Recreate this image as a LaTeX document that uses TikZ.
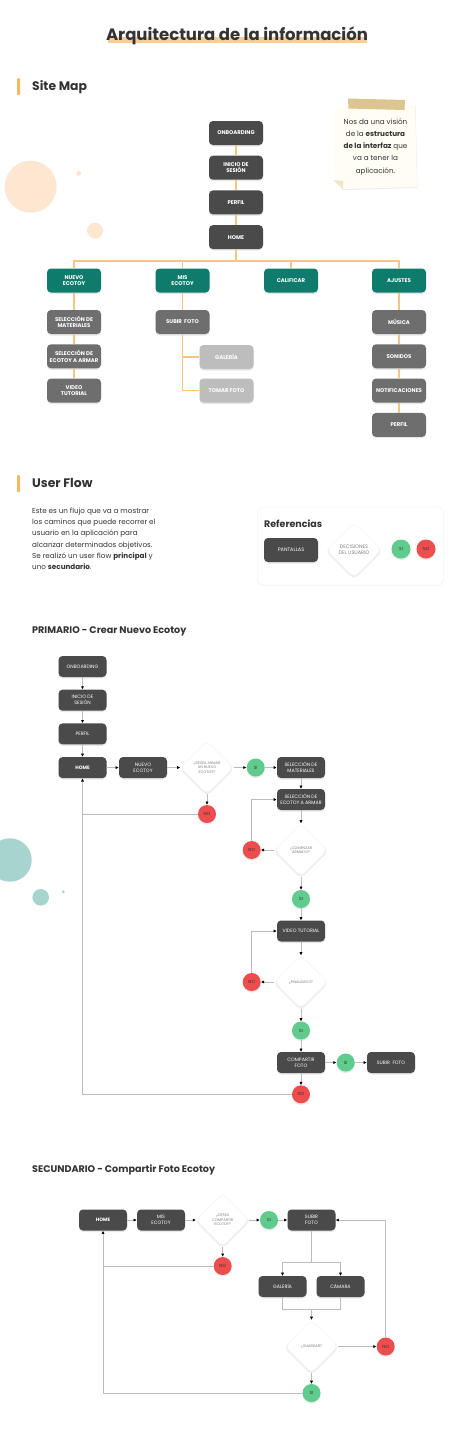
\documentclass[tikz,border=0pt]{standalone}
\usepackage{fontspec}
\setmainfont{Poppins}
\usetikzlibrary{positioning}
\usetikzlibrary{shapes.geometric}
\usetikzlibrary{shadows}
\usetikzlibrary{arrows.meta}
\definecolor{ink}{HTML}{333333}
\definecolor{boxdark}{HTML}{4A4A4A}
\definecolor{boxmid}{HTML}{6E6E6E}
\definecolor{boxlight}{HTML}{BDBDBD}
\definecolor{ecoteal}{HTML}{0F7B6C}
\definecolor{treeline}{HTML}{F7C483}
\definecolor{accent}{HTML}{F4B862}
\definecolor{peach}{HTML}{FDE7D1}
\definecolor{mint}{HTML}{A8D4D0}
\definecolor{flowgray}{HTML}{BCBCBC}
\definecolor{sigreen}{HTML}{5FCB8C}
\definecolor{nored}{HTML}{EE4D4D}
\definecolor{paper}{HTML}{FFFDF4}
\definecolor{fold}{HTML}{EEE6C6}
\definecolor{tape}{HTML}{D9BF86}
\definecolor{decitext}{HTML}{808080}
\tikzset{>={Latex[length=3.2pt,width=3.2pt,color=black]}}
\tikzset{softshadow/.style={drop shadow={opacity=0.18,shadow xshift=0pt,shadow yshift=-1.5pt}}}
\tikzset{glow/.style={drop shadow={opacity=0.13,shadow xshift=0pt,shadow yshift=-1pt,shadow scale=1.05}}}
\tikzset{smbox/.style={rounded corners=4pt, minimum width=54pt, minimum height=24pt, inner sep=1pt, align=center, text=white, font=\fontsize{5.4}{6.4}\selectfont\bfseries, softshadow}}
\tikzset{smtop/.style={smbox, fill=ecoteal}}
\tikzset{smdark/.style={smbox, fill=boxdark}}
\tikzset{smmid/.style={smbox, fill=boxmid}}
\tikzset{smlight/.style={smbox, fill=boxlight}}
\tikzset{tree/.style={draw=treeline, line width=1.1pt}}
\tikzset{screen/.style={fill=boxdark, rounded corners=4pt, minimum width=48pt, minimum height=21pt, inner sep=1pt, align=center, text=white, font=\fontsize{4.8}{5.8}\selectfont, softshadow}}
\tikzset{deci/.style={diamond, aspect=1, fill=white, draw=black!4, minimum width=53pt, minimum height=53pt, inner sep=0pt, rounded corners=5pt, align=center, text=decitext, font=\fontsize{3.7}{4.4}\selectfont, glow}}
\tikzset{yesdot/.style={circle, fill=sigreen, minimum size=18pt, inner sep=0pt, text=ink, font=\fontsize{4.4}{5}\selectfont, softshadow}}
\tikzset{nodot/.style={yesdot, fill=nored}}
\tikzset{link/.style={draw=flowgray, line width=0.8pt}}
\tikzset{flow/.style={link, ->}}
\tikzset{heading/.style={anchor=base west, inner sep=0pt, text=ink, font=\fontsize{12.4}{14}\selectfont\bfseries}}
\tikzset{subhead/.style={anchor=base west, inner sep=0pt, text=ink, font=\fontsize{9.6}{11}\selectfont\bfseries}}

\begin{document}
\begin{tikzpicture}[x=1pt,y=-1pt]
\useasboundingbox (0,0) rectangle (474,1430);
\fill[white] (0,0) rectangle (474,1430);

% title
\fill[treeline!85] (108,36.5) rectangle (367,42.5);
\node[anchor=base, inner sep=0pt, text=ink, font=\fontsize{16.5}{18}\selectfont\bfseries] (title) at (237,40.5) {Arquitectura de la información};

% site map
\fill[accent, rounded corners=1pt] (17,78) rectangle (20,95);
\node[heading] (smhead) at (32,90.5) {Site Map};

\fill[peach] (30.7,186.7) circle (26pt);
\fill[peach] (95,230.7) circle (8pt);
\fill[peach] (78.7,173.3) circle (2.5pt);

\fill[paper, drop shadow={opacity=0.15,shadow xshift=0.5pt,shadow yshift=-1pt}] (335,107) -- (415,105) -- (417,187) -- (343,189) -- (334,180) -- cycle;
\fill[fold] (334,180) -- (343,181) -- (343,189) -- cycle;
\fill[tape, opacity=0.9] (348,98.5) -- (405,100) -- (404.5,110) -- (348.5,108.5) -- cycle;
\node[align=center, font=\fontsize{7.2}{12.2}\selectfont, text=ink, anchor=north, inner sep=0pt] (note) at (375.5,118.5) {Nos da una visión\\de la \textbf{estructura}\\\textbf{de la interfaz} que\\va a tener la\\aplicación.};

\begin{scope}[on grid]
\node[smdark] (ob) at (236,133) {ONBOARDING};
\node[smdark] (ini) [below=34.7pt of ob] {INICIO DE\\SESIÓN};
\node[smdark] (perf) [below=34.7pt of ini] {PERFIL};
\node[smdark] (home) [below=34.7pt of perf] {HOME};

\node[smtop] (nuevo) at (74,280.5) {NUEVO\\ECOTOY};
\node[smtop] (misec) at (182.5,280.5) {MIS\\ECOTOY};
\node[smtop] (calif) at (291,280.5) {CALIFICAR};
\node[smtop] (ajust) at (399,280.5) {AJUSTES};

\node[smmid] (selmat) [below=41.5pt of nuevo] {SELECCIÓN DE\\MATERIALES};
\node[smmid] (selecot) [below=34.3pt of selmat] {SELECCIÓN DE\\ECOTOY A ARMAR};
\node[smmid] (vidtut) [below=34.3pt of selecot] {VIDEO\\TUTORIAL};

\node[smmid] (subfoto) [below=41.5pt of misec] {SUBIR\ \ FOTO};
\node[smlight] (galer) at (226.5,357) {GALERÍA};
\node[smlight] (tomar) at (226.5,390.5) {TOMAR FOTO};

\node[smmid] (musica) [below=41.5pt of ajust] {MÚSICA};
\node[smmid] (sonid) [below=34.3pt of musica] {SONIDOS};
\node[smmid] (notif) [below=34.3pt of sonid] {NOTIFICACIONES};
\node[smmid] (perfdos) [below=34.3pt of notif] {PERFIL};
\end{scope}

\coordinate (bar) at (236,261);
\draw[tree] (ob) -- (ini);
\draw[tree] (ini) -- (perf);
\draw[tree] (perf) -- (home);
\draw[tree] (home) -- (bar);
\draw[tree] (nuevo) |- (bar) -| (ajust);
\draw[tree] (misec) -- (misec |- bar);
\draw[tree] (calif) -- (calif |- bar);
\draw[tree] (nuevo) -- (selmat);
\draw[tree] (selmat) -- (selecot);
\draw[tree] (selecot) -- (vidtut);
\draw[tree] (misec) -- (subfoto);
\draw[tree] (subfoto) |- (tomar);
\draw[tree] (subfoto |- galer) -- (galer);
\draw[tree] (ajust) -- (musica);
\draw[tree] (musica) -- (sonid);
\draw[tree] (sonid) -- (notif);
\draw[tree] (notif) -- (perfdos);

% user flow
\fill[accent, rounded corners=1pt] (17,475) rectangle (20,492);
\node[heading] (ufhead) at (32,487) {User Flow};
\node[anchor=north west, align=left, inner sep=0pt, text=ink, font=\fontsize{7.2}{11.1}\selectfont] (intro) at (32,508) {Este es un flujo que va a mostrar\\los caminos que puede recorrer el\\usuario en la aplicación para\\alcanzar determinados objetivos.\\Se realizó un user flow \textbf{principal} y\\uno \textbf{secundario}.};

\node[fill=white, draw=black!5, rounded corners=6pt, minimum width=186pt, minimum height=78pt, inner sep=0pt, drop shadow={opacity=0.08,shadow xshift=0pt,shadow yshift=-1pt}] (card) at (350.5,546) {};
\node[anchor=base west, inner sep=0pt, text=ink, font=\fontsize{9.5}{11}\selectfont\bfseries] (refs) at (264,527) {Referencias};
\node[screen, minimum width=54pt, minimum height=24pt, font=\fontsize{5}{6}\selectfont] (lpant) at (291,550) {PANTALLAS};
\node[deci, minimum width=55pt, minimum height=55pt, font=\fontsize{5}{6}\selectfont] (ldeci) at (354,550) {DECISIONES\\DEL USUARIO};
\node[yesdot, minimum size=19pt] (lsi) at (401,549) {SI};
\node[nodot, minimum size=19pt] (lno) at (426,549) {NO};

% primario
\node[subhead] (prihead) at (32,633) {PRIMARIO - Crear Nuevo Ecotoy};

\fill[mint] (10,860) circle (21.7pt);
\fill[mint] (40.7,897.3) circle (8.3pt);
\fill[mint] (63.3,891.7) circle (1.5pt);

\begin{scope}[on grid]
\node[screen] (pob) at (82.5,666.5) {ONBOARDING};
\node[screen] (pini) [below=33.7pt of pob] {INICIO DE\\SESIÓN};
\node[screen] (pperf) [below=33.7pt of pini] {PERFIL};
\node[screen, font=\fontsize{4.8}{5.8}\selectfont\bfseries] (phome) [below=33.7pt of pperf] {HOME};
\end{scope}
\node[screen] (pnuevo) at (143,767.5) {NUEVO\\ECOTOY};
\node[deci] (pdesea) at (207,767.5) {¿DESEA ARMAR\\UN NUEVO\\ECOTOY?};
\node[yesdot] (psi1) at (255.7,767.5) {SI};
\node[screen] (pmat) at (301,767.5) {SELECCIÓN DE\\MATERIALES};
\node[screen] (pecot) at (301,799.5) {SELECCIÓN DE\\ECOTOY A ARMAR};
\node[nodot] (pno1) at (207,814) {NO};
\node[deci] (pcomenz) at (301,850) {¿COMENZAR\\ARMADO?};
\node[nodot] (pno2) at (251.7,850) {NO};
\node[yesdot] (psi2) at (301,899) {SI};
\node[screen] (pvideo) at (301,931) {VIDEO TUTORIAL};
\node[deci] (pfin) at (301,982) {¿FINALIZADO?};
\node[nodot] (pno3) at (251.7,982) {NO};
\node[yesdot] (psi3) at (301,1030.5) {SI};
\node[screen] (pcomp) at (301,1062.5) {COMPARTIR\\FOTO};
\node[yesdot] (psi4) at (345.7,1062.5) {SI};
\node[screen] (psubir) at (391,1062.5) {SUBIR\ \ FOTO};
\node[nodot] (pno4) at (301,1094.3) {NO};

\draw[flow] (pob) -- (pini);
\draw[flow] (pini) -- (pperf);
\draw[flow] (pperf) -- (phome);
\draw[flow] (phome) -- (pnuevo);
\draw[flow] (pnuevo) -- (pdesea);
\draw[flow] (pdesea) -- (psi1);
\draw[flow] (psi1) -- (pmat);
\draw[flow] (pmat) -- (pecot);
\draw[flow] (pdesea) -- (pno1);
\draw[link] (pno1) -- (pno1 -| phome);
\draw[flow] (pecot) -- (pcomenz);
\draw[flow] (pcomenz) -- (pno2);
\draw[flow] (pno2) |- (pecot);
\draw[flow] (pcomenz) -- (psi2);
\draw[flow] (psi2) -- (pvideo);
\draw[flow] (pvideo) -- (pfin);
\draw[flow] (pfin) -- (pno3);
\draw[flow] (pno3) |- (pvideo);
\draw[flow] (pfin) -- (psi3);
\draw[flow] (psi3) -- (pcomp);
\draw[flow] (pcomp) -- (psi4);
\draw[flow] (psi4) -- (psubir);
\draw[flow] (pcomp) -- (pno4);
\draw[flow] (pno4) -| (phome);

% secundario
\node[subhead] (sechead) at (32,1172) {SECUNDARIO - Compartir Foto Ecotoy};

\node[screen, font=\fontsize{4.8}{5.8}\selectfont\bfseries] (shome) at (103,1220) {HOME};
\node[screen] (smis) at (161,1220) {MIS\\ECOTOY};
\node[deci] (sdesea) at (222.7,1220) {¿DESEA\\COMPARTIR\\ECOTOY?};
\node[yesdot] (ssi1) at (269,1220) {SI};
\node[screen] (ssubir) at (311.5,1220) {SUBIR\\FOTO};
\node[nodot] (sno1) at (222.7,1266) {NO};
\node[screen] (sgal) at (282.5,1286.5) {GALERÍA};
\node[screen] (scam) at (340.5,1286.5) {CÁMARA};
\node[deci] (sguard) at (311.5,1346.5) {¿GUARDAR?};
\node[nodot] (sno2) at (385.7,1346.5) {NO};
\node[yesdot] (ssi2) at (311.5,1393) {SI};

\coordinate (split) at (311.5,1262.5);
\coordinate (merge) at (311.5,1309.5);
\draw[flow] (shome) -- (smis);
\draw[flow] (smis) -- (sdesea);
\draw[flow] (sdesea) -- (ssi1);
\draw[flow] (ssi1) -- (ssubir);
\draw[flow] (sdesea) -- (sno1);
\draw[link] (sno1) -- (sno1 -| shome);
\draw[link] (ssubir) -- (split);
\draw[flow] (split) -| (sgal);
\draw[flow] (split) -| (scam);
\draw[link] (sgal) |- (merge);
\draw[link] (scam) |- (merge);
\draw[flow] (merge) -- (sguard);
\draw[flow] (sguard) -- (sno2);
\draw[flow] (sno2) |- (ssubir);
\draw[flow] (sguard) -- (ssi2);
\draw[flow] (ssi2) -| (shome);
\end{tikzpicture}
\end{document}
